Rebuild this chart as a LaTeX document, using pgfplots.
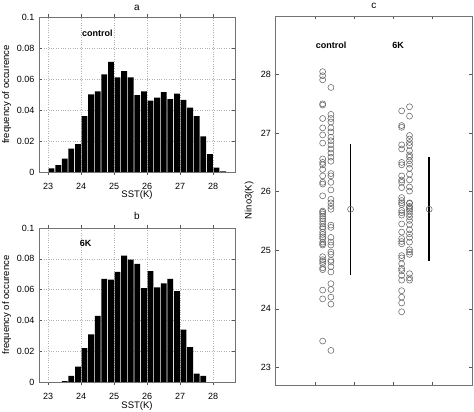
\documentclass[border=0pt]{standalone}
\usepackage{pgfplots}
\pgfplotsset{compat=1.18}
\usepackage{fontspec}
\setmainfont{Liberation Sans}

\pgfplotsset{
  mystyle/.style={
    scale only axis,
    axis line style={black!55, line width=0.6pt},
    tick style={black!65, line width=0.5pt},
    tick align=inside,
    major tick length=3pt,
    tick label style={font=\fontsize{9}{10}\selectfont},
    label style={font=\fontsize{9.5}{11}\selectfont},
    /pgf/number format/assume math mode=true,
    xticklabel style={anchor=base, yshift=-14.5pt},
    yticklabel style={xshift=-1pt},
    clip=false,
  },
  histstyle/.style={
    mystyle,
    xmin=22.72, xmax=28.66, ymin=0, ymax=0.1,
    xtick={23,24,25,26,27,28},
    ytick={0,0.02,0.04,0.06,0.08,0.1},
    yticklabel style={/pgf/number format/fixed, /pgf/number format/precision=2},
    scaled y ticks=false,
    grid=major, grid style={dotted, black!30, line width=0.45pt},
    ybar, bar width=0.175,
    xlabel={SST(K)},
    ylabel={frequency of occurence},
    ylabel style={at={(axis description cs:-0.153,0.5)}, anchor=base},
  }
}
\newcommand{\ttl}[2]{\node[anchor=base, inner sep=0pt, font=\fontsize{10}{11}\selectfont] at (axis description cs:0.5,#1) {#2};}

\begin{document}
\begin{tikzpicture}
\path[use as bounding box] (0,0) rectangle (474pt,412pt);

% ---------------- panel a ----------------
\begin{axis}[histstyle,
  at={(39pt,240pt)}, anchor=south west, width=196pt, height=155pt,
  xlabel style={at={(axis description cs:0.5,-0.165)}, anchor=base},
]
\addplot[fill=black, draw=none] coordinates {
(23.1,0.0024) (23.3,0.0045) (23.5,0.0086) (23.7,0.015) (23.9,0.018)
(24.1,0.036) (24.3,0.050) (24.5,0.052) (24.7,0.063) (24.9,0.071)
(25.1,0.061) (25.3,0.065) (25.5,0.061) (25.7,0.0496) (25.9,0.052)
(26.1,0.046) (26.3,0.048) (26.5,0.0515) (26.7,0.047) (26.9,0.0506)
(27.1,0.0465) (27.3,0.0416) (27.5,0.036) (27.7,0.023) (27.9,0.0116)
(28.1,0.0028) (28.3,0.0004)
};
\node[anchor=west, inner sep=0pt, font=\bfseries\fontsize{9}{10}\selectfont] at (axis cs:24.02,0.0897) {control};
\ttl{1.042}{a}
\end{axis}

% ---------------- panel b ----------------
\begin{axis}[histstyle,
  at={(39pt,30pt)}, anchor=south west, width=196pt, height=154pt,
  xlabel style={at={(axis description cs:0.5,-0.172)}, anchor=base},
]
\addplot[fill=black, draw=none] coordinates {
(23.5,0.0006) (23.7,0.004) (23.9,0.010) (24.1,0.022) (24.3,0.031)
(24.5,0.043) (24.7,0.067) (24.9,0.0665) (25.1,0.0715) (25.3,0.082)
(25.5,0.0795) (25.7,0.0767) (25.9,0.061) (26.1,0.072) (26.3,0.0615)
(26.5,0.064) (26.7,0.067) (26.9,0.059) (27.1,0.034) (27.3,0.0227)
(27.5,0.0054) (27.7,0.004)
};
\node[anchor=west, inner sep=0pt, font=\bfseries\fontsize{9}{10}\selectfont] at (axis cs:23.95,0.0898) {6K};
\ttl{1.058}{b}
\end{axis}

% ---------------- panel c ----------------
\begin{axis}[mystyle,
  at={(275.5pt,27pt)}, anchor=south west, width=196.5pt, height=369pt,
  xmin=0, xmax=5, ymin=22.7, ymax=29,
  xtick={1,2,3,4}, xticklabels={},
  ytick={23,24,25,26,27,28},
  ylabel={Nino3(K)},
  ylabel style={at={(axis description cs:-0.122,0.5)}, anchor=base},
]
\addplot[only marks, mark=o, mark size=3pt, draw=black!60, mark options={line width=0.55pt}] coordinates {
(1.2,28.05) (1.2,27.98) (1.2,27.91) (1.2,27.5) (1.2,27.48) (1.2,27.25) (1.2,27.09)
(1.2,26.97) (1.2,26.83) (1.2,26.56) (1.2,26.5) (1.2,26.46) (1.2,26.38) (1.2,26.27)
(1.2,26.16) (1.2,26.13) (1.2,25.93) (1.2,25.67) (1.2,25.65) (1.2,25.62) (1.2,25.58)
(1.2,25.54) (1.2,25.5) (1.2,25.45) (1.2,25.40) (1.2,25.37) (1.2,25.31) (1.2,25.27)
(1.2,25.23) (1.2,25.2) (1.2,25.14) (1.2,25.11) (1.2,25.09) (1.2,24.89) (1.2,24.84)
(1.2,24.81) (1.2,24.77) (1.2,24.70) (1.2,24.67) (1.2,24.32) (1.2,24.17) (1.2,23.45)
};
\addplot[only marks, mark=o, mark size=3pt, draw=black!60, mark options={line width=0.55pt}] coordinates {
(1.41,27.78) (1.41,27.32) (1.41,27.25) (1.41,27.19) (1.41,27.09) (1.41,27.02) (1.41,26.93)
(1.41,26.87) (1.41,26.8) (1.41,26.73) (1.41,26.66) (1.41,26.59) (1.41,26.52) (1.41,26.31)
(1.41,26.27) (1.41,26.16) (1.41,26.03) (1.41,25.87) (1.41,25.81) (1.41,25.75) (1.41,25.70)
(1.41,25.43) (1.41,25.39) (1.41,25.22) (1.41,25.14) (1.41,25.09) (1.41,24.97) (1.41,24.93)
(1.41,24.83) (1.41,24.80) (1.41,24.72) (1.41,24.63) (1.41,24.43) (1.41,24.33) (1.41,24.2)
(1.41,24.08) (1.41,23.29)
};
\addplot[only marks, mark=o, mark size=3pt, draw=black!60, mark options={line width=0.55pt}] coordinates {
(3.21,27.38) (3.21,27.13) (3.21,27.1) (3.21,26.8) (3.21,26.73) (3.21,26.5) (3.21,26.46)
(3.21,26.27) (3.21,26.2) (3.21,26.16) (3.21,26.07) (3.21,25.9) (3.21,25.81) (3.21,25.68)
(3.21,25.85) (3.21,25.78) (3.21,25.64) (3.21,25.60) (3.21,25.45) (3.21,25.31) (3.21,25.2)
(3.21,25.15) (3.21,25.11) (3.21,24.91) (3.21,24.87) (3.21,24.77) (3.21,24.69) (3.21,24.65)
(3.21,24.57) (3.21,24.49) (3.21,24.31) (3.21,24.2) (3.21,24.1) (3.21,23.95)
};
\addplot[only marks, mark=o, mark size=3pt, draw=black!60, mark options={line width=0.55pt}] coordinates {
(3.41,27.45) (3.41,27.29) (3.41,26.96) (3.41,26.9) (3.41,26.84) (3.41,26.79) (3.41,26.7)
(3.41,26.63) (3.41,26.59) (3.41,26.53) (3.41,26.47) (3.41,26.4) (3.41,26.3) (3.41,26.2)
(3.41,26.08) (3.41,26.01) (3.41,25.81) (3.41,25.75) (3.41,25.7) (3.41,25.8) (3.41,25.73)
(3.41,25.67) (3.41,25.62) (3.41,25.57) (3.41,25.51) (3.41,25.44) (3.41,25.35) (3.41,25.28)
(3.41,25.22) (3.41,25.14) (3.41,25.01) (3.41,24.97) (3.41,24.93) (3.41,24.6) (3.41,24.53)
(3.41,24.49)
};
% ranges and means
\addplot[black, line width=1.8pt] coordinates {(1.91,24.58) (1.91,26.81)};
\addplot[black, line width=1.8pt] coordinates {(3.91,24.82) (3.91,26.59)};
\addplot[only marks, mark=o, mark size=3pt, draw=black!60, mark options={line width=0.55pt}] coordinates {(1.91,25.70) (3.91,25.70)};
\node[anchor=west, inner sep=0pt, font=\bfseries\fontsize{9}{10}\selectfont] at (axis cs:1.02,28.5) {control};
\node[anchor=west, inner sep=0pt, font=\bfseries\fontsize{9}{10}\selectfont] at (axis cs:2.97,28.5) {6K};
\ttl{1.021}{c}
\end{axis}
\end{tikzpicture}
\end{document}
